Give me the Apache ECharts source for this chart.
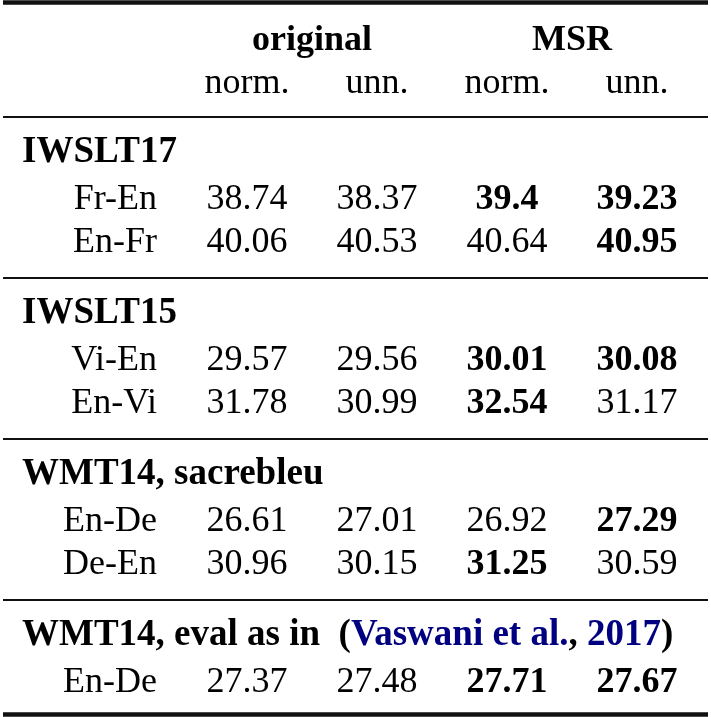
<!DOCTYPE html>
<html>
<head>
<meta charset="utf-8">
<script src="https://cdn.jsdelivr.net/npm/echarts@6/dist/echarts.min.js"></script>
<style>
html,body{margin:0;padding:0;background:#fff;}
#chart{width:711px;height:717px;}
</style>
</head>
<body>
<div id="chart"></div>
<script>
// ---------- data ----------
const groups = ['original', 'MSR'];
const columns = ['norm.', 'unn.', 'norm.', 'unn.'];
const sections = ['IWSLT17', 'IWSLT15', 'WMT14, sacrebleu', 'WMT14, eval as in'];
const citationAuthor = 'Vaswani et al.';
const citationYear = '2017';
const pairs = [
  ['Fr-En', 'En-Fr'],
  ['Vi-En', 'En-Vi'],
  ['En-De', 'De-En'],
  ['En-De']
];
const scores = [
  [[38.74, 38.37, 39.4, 39.23], [40.06, 40.53, 40.64, 40.95]],
  [[29.57, 29.56, 30.01, 30.08], [31.78, 30.99, 32.54, 31.17]],
  [[26.61, 27.01, 26.92, 27.29], [30.96, 30.15, 31.25, 30.59]],
  [[27.37, 27.48, 27.71, 27.67]]
];
const bold = [
  [[0, 0, 1, 1], [0, 0, 0, 1]],
  [[0, 0, 1, 1], [0, 0, 1, 0]],
  [[0, 0, 0, 1], [0, 0, 1, 0]],
  [[0, 0, 1, 1]]
];

// ---------- layout (style constants, in layout units of the y axis) ----------
const colKeys = ['pair', 'orig-norm', 'orig-unn', 'msr-norm', 'msr-unn'];
const LAY = {
  hdr1: 38, hdrStep: 43, firstRule: 117, ruleToHead: 33, headToRow: 47,
  rowStep: 43, rowToRule: 38, topRule: 2.5, bottomRule: 714.5, height: 717,
  textDy: 2.5
};
const FAMILY = "'Liberation Serif','Times New Roman',Times,serif";
const FS = 36;
const FSB = 37;

// build cells and rules from the data
const cells = [];
const rules = [{ y: LAY.topRule, w: 4.5 }];
cells.push({ span: [1, 2], y: LAY.hdr1, text: groups[0], bold: true, align: 'center' });
cells.push({ span: [3, 4], y: LAY.hdr1, text: groups[1], bold: true, align: 'center' });
columns.forEach((c, i) => cells.push({ col: i + 1, y: LAY.hdr1 + LAY.hdrStep, text: c, align: 'center' }));

let ruleY = LAY.firstRule;
sections.forEach((name, s) => {
  rules.push({ y: ruleY, w: 1.8 });
  const headY = ruleY + LAY.ruleToHead;
  if (s === sections.length - 1) {
    cells.push({ col: 0, dx: -95, y: headY, align: 'left',
      text: '{b|' + name + '}  {b|(}{c|' + citationAuthor + '}{b|, }{c|' + citationYear + '}{b|)}',
      rich: true });
  } else {
    cells.push({ col: 0, dx: -95, y: headY, text: name, bold: true, align: 'left' });
  }
  let rowY = headY + LAY.headToRow;
  pairs[s].forEach((p, r) => {
    cells.push({ col: 0, dx: 40, y: rowY, text: p, align: 'right' });
    scores[s][r].forEach((v, k) => {
      cells.push({ col: k + 1, y: rowY, text: String(v), bold: !!bold[s][r][k], align: 'center' });
    });
    if (r < pairs[s].length - 1) rowY += LAY.rowStep;
  });
  ruleY = rowY + LAY.rowToRule;
});
rules.push({ y: LAY.bottomRule, w: 4.5 });

const richStyles = {
  b: { fontFamily: FAMILY, fontSize: FSB, fontWeight: 'bold', fill: '#000' },
  c: { fontFamily: FAMILY, fontSize: FSB, fontWeight: 'bold', fill: '#000080' }
};

const chart = echarts.init(document.getElementById('chart'), null, { renderer: 'canvas' });
chart.setOption({
  backgroundColor: '#fff',
  animation: false,
  grid: { left: 52, right: 9, top: 0, bottom: 0, containLabel: false, outerBoundsMode: 'none' },
  xAxis: { type: 'category', data: colKeys, show: false, boundaryGap: true },
  yAxis: { type: 'value', inverse: true, min: 0, max: LAY.height, show: false },
  series: [
    {
      type: 'custom',
      name: 'rules',
      silent: true,
      data: rules.map(r => [0, r.y]),
      renderItem: function (params, api) {
        const r = rules[params.dataIndex];
        const cs = params.coordSys;
        const y = api.coord([0, r.y])[1];
        return {
          type: 'line',
          shape: { x1: cs.x - 49, y1: y, x2: cs.x + cs.width + 6, y2: y },
          style: { stroke: '#111', lineWidth: r.w }
        };
      }
    },
    {
      type: 'custom',
      name: 'cells',
      silent: true,
      data: cells.map(c => [c.span ? c.span[0] : c.col, c.y]),
      renderItem: function (params, api) {
        const c = cells[params.dataIndex];
        const y = api.coord([0, c.y])[1] + LAY.textDy;
        let x;
        if (c.span) {
          x = (api.coord([c.span[0], c.y])[0] + api.coord([c.span[1], c.y])[0]) / 2;
        } else {
          x = api.coord([c.col, c.y])[0];
        }
        x += c.dx || 0;
        const style = {
          text: c.text,
          fill: '#000',
          fontFamily: FAMILY,
          fontSize: (c.bold || c.rich) && c.col === 0 ? FSB : FS,
          fontWeight: c.bold ? 'bold' : 'normal',
          align: c.align,
          verticalAlign: 'middle'
        };
        if (c.rich) style.rich = richStyles;
        return { type: 'text', x: x, y: y, style: style };
      }
    }
  ]
});
</script>
</body>
</html>
